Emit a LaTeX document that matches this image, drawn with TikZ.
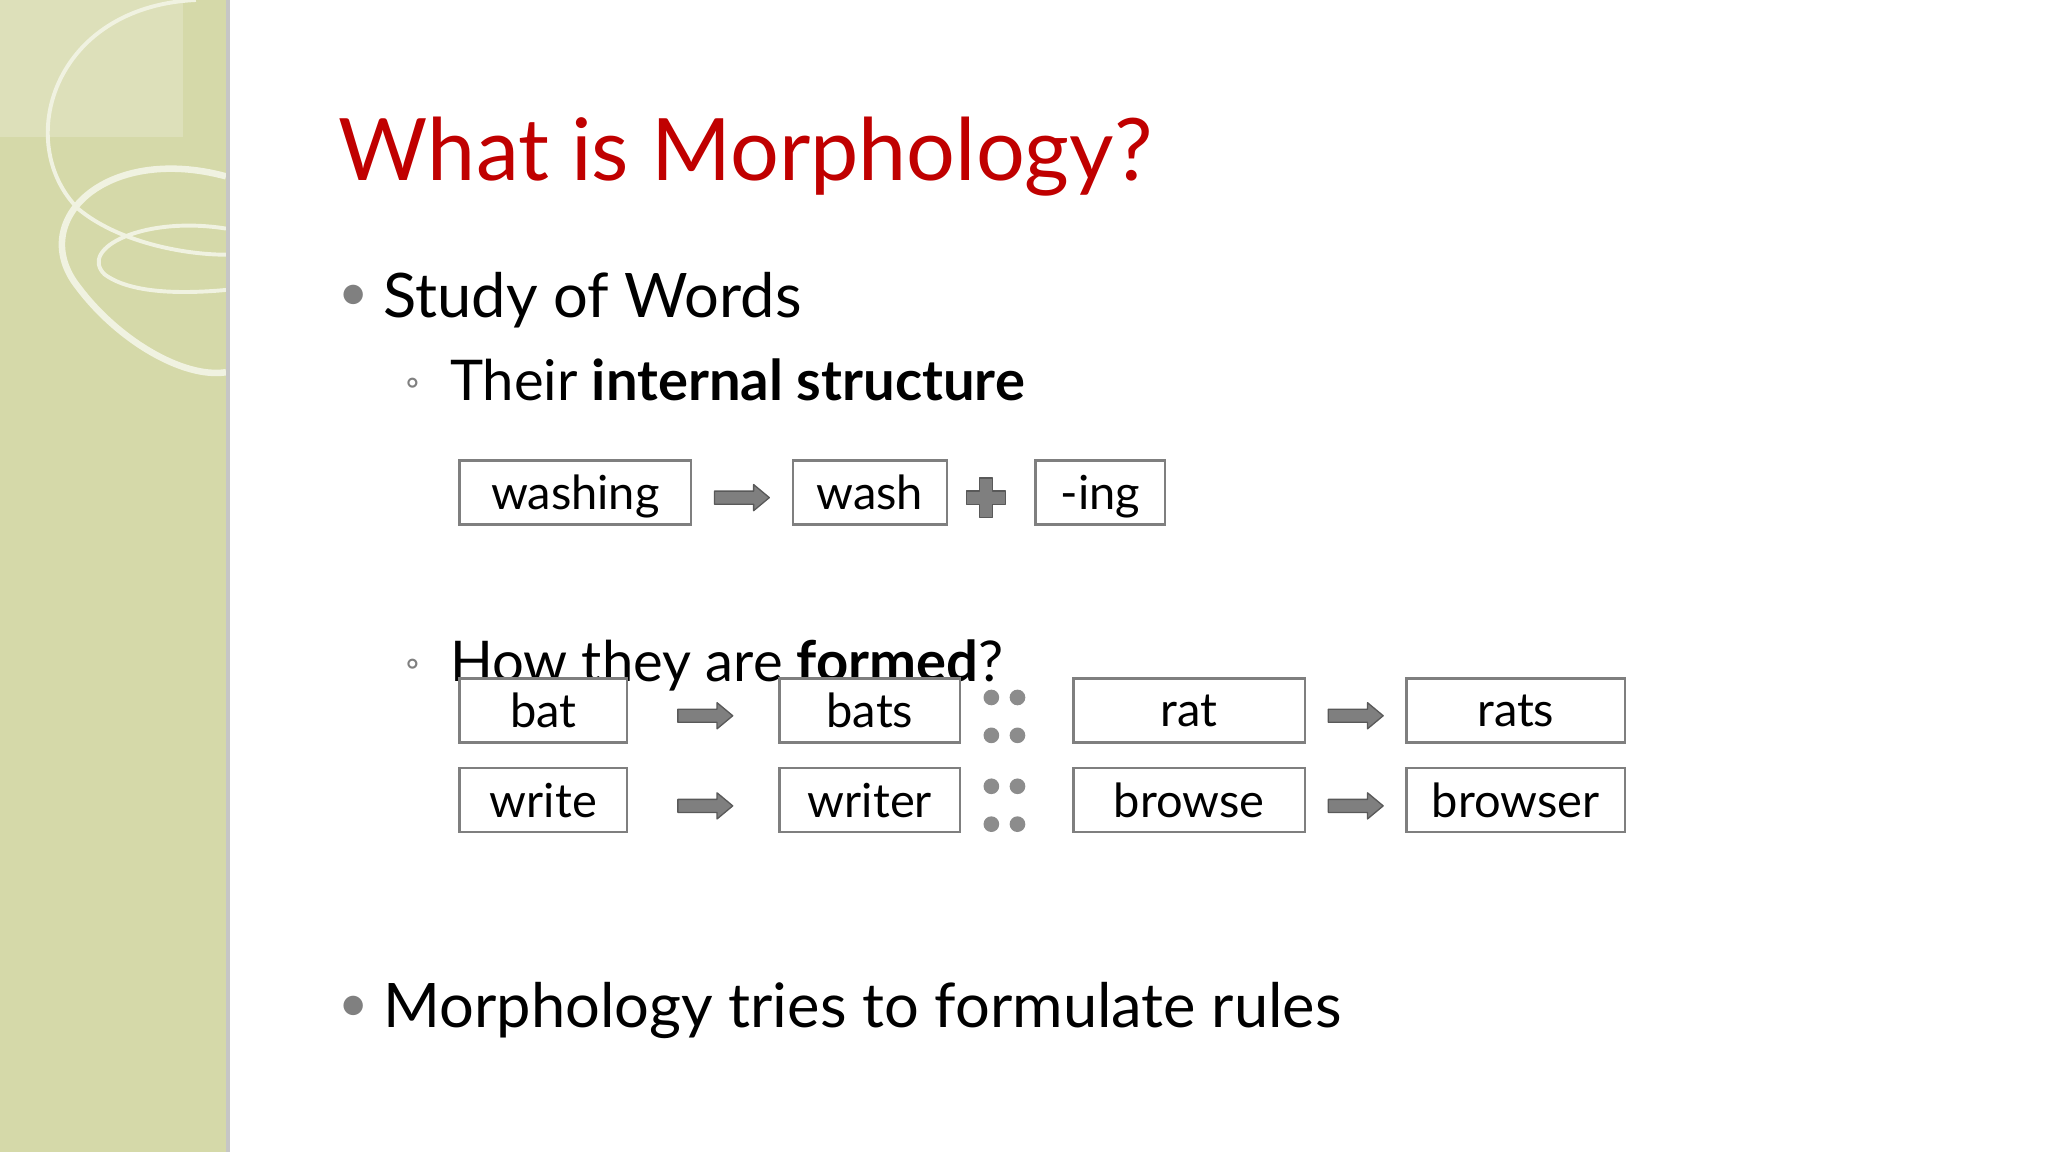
\documentclass[tikz,border=0pt]{standalone}
\usepackage{fontspec}
\setmainfont{Lato}
\definecolor{side}{HTML}{D5D9A9}
\definecolor{ttl}{HTML}{C00000}
\definecolor{agray}{HTML}{7F7F7F}
\begin{document}
\begin{tikzpicture}[x=1pt,y=-1pt,
  wbox/.style={draw=agray,line width=2pt,fill=white,minimum height=49pt,inner sep=0pt,text depth=0pt,font=\fontsize{36}{36}\selectfont},
  arrw/.pic={\filldraw[fill=agray,draw=gray!70!black,line width=1pt,line join=round] (-21,-5) -- (9,-5) -- (9,-10) -- (21,0) -- (9,10) -- (9,5) -- (-21,5) -- cycle;},
  dot/.style={circle,fill=gray!90,inner sep=0pt,minimum size=12pt}]
\useasboundingbox (0,0) rectangle (1568,882);
\fill[white] (0,0) rectangle (1568,882);
\fill[side] (0,0) rectangle (173,882);
\fill[gray!45] (173,0) rectangle (176,882);
\begin{scope}
\clip (0,0) rectangle (173,882);
\fill[white,opacity=0.2] (0,0) rectangle (140,105) ;
\draw[white!65!side,line width=3pt] (150,0) .. controls (40,5) and (10,110) .. (60,160) .. controls (90,185) and (140,195) .. (173,195);
\draw[white!65!side,line width=5pt] (173,135) .. controls (80,110) and (20,170) .. (60,220) .. controls (90,260) and (140,290) .. (173,285);
\draw[white!65!side,line width=3pt] (173,175) .. controls (110,165) and (60,190) .. (80,210) .. controls (100,225) and (140,225) .. (173,222);
\end{scope}
\node[anchor=base west,text=ttl,font=\fontsize{66}{66}\selectfont] (title) at (256,138) {What is Morphology?};
\node[anchor=base west,text=gray,font=\fontsize{40}{40}\selectfont] (b1) at (256,238) {•};
\node[anchor=base west,font=\fontsize{47}{47}\selectfont] (t1) at (290,243) {Study of Words};
\node[anchor=base west,text=gray,font=\fontsize{28}{28}\selectfont] (b2) at (307,303) {◦};
\node[anchor=base west,font=\fontsize{43}{43}\selectfont] (t2) at (341,307) {Their \textbf{internal structure}};
\node[anchor=base west,text=gray,font=\fontsize{28}{28}\selectfont] (b3) at (307,518) {◦};
\node[anchor=base west,font=\fontsize{43}{43}\selectfont] (t3) at (341,522) {How they are \textbf{formed}?};
\node[anchor=base west,text=gray,font=\fontsize{40}{40}\selectfont] (b4) at (256,782) {•};
\node[anchor=base west,font=\fontsize{47}{47}\selectfont] (t4) at (290,787) {Morphology tries to formulate rules};
% row 0
\node[wbox,minimum width=177pt] (washing) at (440.5,377) {washing};
\pic at (568,381) {arrw};
\node[wbox,minimum width=118pt] (wash) at (666,377) {wash};
\node[wbox,minimum width=99pt] (ing) at (842.5,377) {-ing};
\filldraw[fill=agray,draw=gray!70!black,line width=1pt,line join=round] (750,366) -- (760,366) -- (760,376) -- (770,376) -- (770,386) -- (760,386) -- (760,396) -- (750,396) -- (750,386) -- (740,386) -- (740,376) -- (750,376) -- cycle;
% row 1
\node[wbox,minimum width=128pt] (bat) at (416,544) {bat};
\pic at (540,548) {arrw};
\node[wbox,minimum width=138pt] (bats) at (666,544) {bats};
\node[wbox,minimum width=177pt] (rat) at (910.5,544) {rat};
\pic at (1038,548) {arrw};
\node[wbox,minimum width=167pt] (rats) at (1160.5,544) {rats};
% row 2
\node[wbox,minimum width=128pt] (write) at (416,612.5) {write};
\pic at (540,617) {arrw};
\node[wbox,minimum width=138pt] (writer) at (666,612.5) {writer};
\node[wbox,minimum width=177pt] (browse) at (910.5,612.5) {browse};
\pic at (1038,617) {arrw};
\node[wbox,minimum width=167pt] (browser) at (1160.5,612.5) {browser};
% dots
\foreach \x in {759,779}{\foreach \y in {534,563,602,631}{\node[dot] at (\x,\y) {};}}
\end{tikzpicture}
\end{document}
